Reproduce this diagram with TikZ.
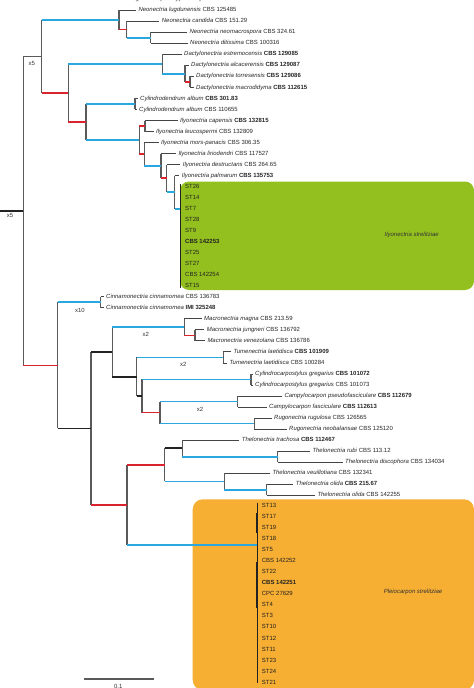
\documentclass[tikz,border=0pt]{standalone}
\usepackage{fontspec}
\setmainfont{Liberation Sans}
\definecolor{tblue}{HTML}{2AA7DF}
\definecolor{tred}{HTML}{D9232D}
\definecolor{tblack}{HTML}{222222}
\definecolor{vgray}{HTML}{5A5A5A}
\definecolor{lgray}{HTML}{444444}
\definecolor{gbox}{HTML}{93C01F}
\definecolor{obox}{HTML}{F6AE33}
\newcommand\tfs{\fontsize{6}{7}\selectfont}
\newcommand\leaf[5]{%
  \coordinate (#1) at (#3-2.5,11.02*#4-0.7);
  \node[lab] (#1t) at (#3,11.02*#4-0.7) {#5};
  \draw[hg] (#2 |- #1) -- (#1);}
\newcommand\stl[4]{%
  \node[lab,text=tblack] (#1) at (#2,11.02*#3-0.7) {#4};}
\begin{document}
\begin{tikzpicture}[x=1bp,y=-1bp,
  vl/.style={draw=vgray,line width=1.1bp},
  hb/.style={draw=tblue,line width=1.8bp},
  hr/.style={draw=tred,line width=1.8bp},
  hk/.style={draw=tblack,line width=1.8bp},
  hgr/.style={draw=vgray,line width=1.1bp},
  hg/.style={draw=lgray,line width=0.9bp},
  lab/.style={anchor=west,inner sep=0pt,font=\tfs,text=black!85,text height=4.3bp,text depth=1.2bp},
  mult/.style={inner sep=0pt,font=\tfs,text=black!80},
]
\useasboundingbox (0,0) rectangle (474,688);
% clade boxes
\fill[gbox,rounded corners=9bp] (180,181.5) rectangle (474,290);
\fill[obox,rounded corners=10bp] (192.7,499.3) rectangle (474,690);
\node[mult,font=\tfs\itshape] (ilab) at (411.7,235) {Ilyonectria strelitziae};
\node[mult,font=\tfs\itshape] (plab) at (413,591.7) {Pleiocarpon strelitziae};

% internal nodes
\coordinate (R0) at (0,210.96);
\coordinate (R) at (23.3,210.96);
\coordinate (A0) at (41.7,56.51);
\coordinate (N1) at (119,19.96);
\coordinate (N2) at (126.7,29.6);
\coordinate (N3) at (150.7,37.87);
\coordinate (D0) at (68.3,93.06);
\coordinate (D1) at (162.3,64.04);
\coordinate (D2) at (185,73.69);
\coordinate (D3) at (190,81.95);
\coordinate (CI) at (86,122.07);
\coordinate (C1) at (135,103.99);
\coordinate (I0) at (139.3,140.15);
\coordinate (I1) at (145,126.03);
\coordinate (I2) at (144.3,154.27);
\coordinate (I3) at (161,165.98);
\coordinate (I4) at (166.7,178.38);
\coordinate (I5) at (174.7,192.15);
\coordinate (IS) at (180.5,208.68);
\coordinate (B0) at (57.7,365.4);
\coordinate (Cin) at (100.7,302.35);
\coordinate (B1) at (91,428.45);
\coordinate (B2) at (112.3,351.94);
\coordinate (M) at (184.3,327.15);
\coordinate (M2) at (195,335.41);
\coordinate (B3) at (136.7,376.74);
\coordinate (T) at (223.3,357.45);
\coordinate (B4) at (142,396.02);
\coordinate (Cy) at (251,379.49);
\coordinate (B5) at (160,412.55);
\coordinate (Ca) at (237.7,401.53);
\coordinate (Ru) at (254.3,423.57);
\coordinate (B6) at (127,504.95);
\coordinate (TH0) at (164.7,464.9);
\coordinate (TH1) at (182.3,448.37);
\coordinate (TRD) at (277.7,456.63);
\coordinate (TH2) at (224.3,481.43);
\coordinate (OL) at (266.7,489.69);
\coordinate (PS) at (257.3,545);

% leaves
\node[lab] (l0t) at (121.7,-0.7) {\textit{Xenogliocladiopsis cypellocarpa} \textbf{CBS 133814}};
\leaf{l1}{N1}{138.3}{1}{\textit{Neonectria lugdunensis} CBS 125485}
\leaf{l2}{N2}{161.7}{2}{\textit{Neonectria candida} CBS 151.29}
\leaf{l3}{N3}{189.3}{3}{\textit{Neonectria neomacrospora} CBS 324.61}
\leaf{l4}{N3}{190}{4}{\textit{Neonectria ditissima} CBS 100316}
\leaf{l5}{D1}{184}{5}{\textit{Dactylonectria estremocensis} \textbf{CBS 129085}}
\leaf{l6}{D2}{191}{6}{\textit{Dactylonectria alcacerensis} \textbf{CBS 129087}}
\leaf{l7}{D3}{196}{7}{\textit{Dactylonectria torresensis} \textbf{CBS 129086}}
\leaf{l8}{D3}{196}{8}{\textit{Dactylonectria macrodidyma} \textbf{CBS 112615}}
\leaf{l9}{C1}{140}{9}{\textit{Cylindrodendrum album} \textbf{CBS 301.83}}
\leaf{l10}{C1}{139}{10}{\textit{Cylindrodendrum album} CBS 110655}
\leaf{l11}{I1}{180}{11}{\textit{Ilyonectria capensis} \textbf{CBS 132815}}
\leaf{l12}{I1}{156}{12}{\textit{Ilyonectria leucospermi} CBS 132809}
\leaf{l13}{I2}{161}{13}{\textit{Ilyonectria mors-panacis} CBS 306.35}
\leaf{l14}{I3}{178.3}{14}{\textit{Ilyonectria liriodendri} CBS 117527}
\leaf{l15}{I4}{182.7}{15}{\textit{Ilyonectria destructans} CBS 264.65}
\leaf{l16}{I5}{181.7}{16}{\textit{Ilyonectria palmarum} \textbf{CBS 135753}}
\leaf{l27}{Cin}{106}{27}{\textit{Cinnamonectria cinnamomea} CBS 136783}
\leaf{l28}{Cin}{106}{28}{\textit{Cinnamonectria cinnamomea} \textbf{IMI 325248}}
\leaf{l29}{M}{204}{29}{\textit{Macronectria magna} CBS 213.59}
\leaf{l30}{M2}{206.7}{30}{\textit{Macronectria jungneri} CBS 136792}
\leaf{l31}{M2}{207.3}{31}{\textit{Macronectria venezolana} CBS 136786}
\leaf{l32}{T}{233.5}{32}{\textit{Tumenectria laetidisca} \textbf{CBS 101909}}
\leaf{l33}{T}{229.3}{33}{\textit{Tumenectria laetidisca} CBS 100284}
\leaf{l34}{Cy}{255}{34}{\textit{Cylindrocarpostylus gregarius} \textbf{CBS 101072}}
\leaf{l35}{Cy}{255}{35}{\textit{Cylindrocarpostylus gregarius} CBS 101073}
\leaf{l36}{Ca}{284.3}{36}{\textit{Campylocarpon pseudofasciculare} \textbf{CBS 112679}}
\leaf{l37}{Ca}{269}{37}{\textit{Campylocarpon fasciculare} \textbf{CBS 112613}}
\leaf{l38}{Ru}{274}{38}{\textit{Rugonectria rugulosa} CBS 126565}
\leaf{l39}{Ru}{289}{39}{\textit{Rugonectria neobalansae} CBS 125120}
\leaf{l40}{TH1}{241.7}{40}{\textit{Thelonectria trachosa} \textbf{CBS 112467}}
\leaf{l41}{TRD}{312.3}{41}{\textit{Thelonectria rubi} CBS 113.12}
\leaf{l42}{TRD}{345}{42}{\textit{Thelonectria discophora} CBS 134034}
\leaf{l43}{TH2}{272.3}{43}{\textit{Thelonectria veuillotiana} CBS 132341}
\leaf{l44}{OL}{295.7}{44}{\textit{Thelonectria olida} \textbf{CBS 215.67}}
\leaf{l45}{OL}{317.3}{45}{\textit{Thelonectria olida} CBS 142255}

% vertical lines
\draw[vl] (R |- A0) -- (R |- B0);
\draw[vl] (A0 |- N1) -- (A0 |- D0);
\draw[vl] (N1 |- l1) -- (N1 |- N2);
\draw[vl] (N2 |- l2) -- (N2 |- N3);
\draw[vl] (N3 |- l3) -- (N3 |- l4);
\draw[vl] (D0 |- D1) -- (D0 |- CI);
\draw[vl] (D1 |- l5) -- (D1 |- D2);
\draw[vl] (D2 |- l6) -- (D2 |- D3);
\draw[vl] (D3 |- l7) -- (D3 |- l8);
\draw[vl] (CI |- C1) -- (CI |- I0);
\draw[vl] (C1 |- l9) -- (C1 |- l10);
\draw[vl] (I0 |- I1) -- (I0 |- I2);
\draw[vl] (I1 |- l11) -- (I1 |- l12);
\draw[vl] (I2 |- l13) -- (I2 |- I3);
\draw[vl] (I3 |- l14) -- (I3 |- I4);
\draw[vl] (I4 |- l15) -- (I4 |- I5);
\draw[vl] (I5 |- l16) -- (I5 |- IS);
\draw[vl] (B0 |- Cin) -- (B0 |- B1);
\draw[vl] (Cin |- l27) -- (Cin |- l28);
\draw[vl] (B1 |- B2) -- (B1 |- B6);
\draw[vl] (B2 |- M) -- (B2 |- B3);
\draw[vl] (M |- l29) -- (M |- M2);
\draw[vl] (M2 |- l30) -- (M2 |- l31);
\draw[vl] (B3 |- T) -- (B3 |- B4);
\draw[vl] (T |- l32) -- (T |- l33);
\draw[vl] (B4 |- Cy) -- (B4 |- B5);
\draw[vl] (Cy |- l34) -- (Cy |- l35);
\draw[vl] (B5 |- Ca) -- (B5 |- Ru);
\draw[vl] (Ca |- l36) -- (Ca |- l37);
\draw[vl] (Ru |- l38) -- (Ru |- l39);
\draw[vl] (B6 |- TH0) -- (B6 |- PS);
\draw[vl] (TH0 |- TH1) -- (TH0 |- TH2);
\draw[vl] (TH1 |- l40) -- (TH1 |- TRD);
\draw[vl] (TRD |- l41) -- (TRD |- l42);
\draw[vl] (TH2 |- l43) -- (TH2 |- OL);
\draw[vl] (OL |- l44) -- (OL |- l45);

% horizontal branches
\draw[hk] (R0) -- (R);
\draw[hgr] (R |- A0) -- (A0);
\draw[hb] (A0 |- N1) -- (N1);
\draw[hr] (N1 |- N2) -- (N2);
\draw[hb] (N2 |- N3) -- (N3);
\draw[hr] (A0 |- D0) -- (D0);
\draw[hb] (D0 |- D1) -- (D1);
\draw[hb] (D1 |- D2) -- (D2);
\draw[hr] (D2 |- D3) -- (D3);
\draw[hr] (D0 |- CI) -- (CI);
\draw[hb] (CI |- C1) -- (C1);
\draw[hb] (CI |- I0) -- (I0);
\draw[hr] (I0 |- I1) -- (I1);
\draw[hr] (I0 |- I2) -- (I2);
\draw[hb] (I2 |- I3) -- (I3);
\draw[hr] (I3 |- I4) -- (I4);
\draw[hb] (I4 |- I5) -- (I5);
\draw[hb] (I5 |- IS) -- (IS);
\draw[hr] (R |- B0) -- (B0);
\draw[hb] (B0 |- Cin) -- (Cin);
\draw[hk] (B0 |- B1) -- (B1);
\draw[hk] (B1 |- B2) -- (B2);
\draw[hb] (B2 |- M) -- (M);
\draw[hr] (M |- M2) -- (M2);
\draw[hk] (B2 |- B3) -- (B3);
\draw[hb] (B3 |- T) -- (T);
\draw[hk] (B3 |- B4) -- (B4);
\draw[hb] (B4 |- Cy) -- (Cy);
\draw[hr] (B4 |- B5) -- (B5);
\draw[hb] (B5 |- Ca) -- (Ca);
\draw[hb] (B5 |- Ru) -- (Ru);
\draw[hr] (B1 |- B6) -- (B6);
\draw[hr] (B6 |- TH0) -- (TH0);
\draw[hk] (TH0 |- TH1) -- (TH1);
\draw[hb] (TH1 |- TRD) -- (TRD);
\draw[hb] (TH0 |- TH2) -- (TH2);
\draw[hb] (TH2 |- OL) -- (OL);
\draw[hb] (B6 |- PS) -- (PS);

% collapsed clade bars
\coordinate (ib1) at (180.5,184);
\coordinate (ib2) at (180.5,287.5);
\draw[draw=tblack,line width=1.3bp] (ib1) -- (ib2);
\coordinate (pb1) at (257.3,502.7);
\coordinate (pb2) at (257.3,682.7);
\draw[draw=tblack,line width=1.1bp] (pb1) -- (pb2);
\coordinate (pc1) at (256.6,513);
\coordinate (pc2) at (256.6,533);
\draw[draw=tblack,line width=1.8bp] (pc1) -- (pc2);
\coordinate (pd1) at (256.6,561.7);
\coordinate (pd2) at (256.6,608.3);
\draw[draw=tblack,line width=1.8bp] (pd1) -- (pd2);

% Ilyonectria strelitziae strains
\stl{s17}{185}{17}{ST26}
\stl{s18}{185}{18}{ST14}
\stl{s19}{185}{19}{ST7}
\stl{s20}{185}{20}{ST28}
\stl{s21}{185}{21}{ST9}
\stl{s22}{185}{22}{\textbf{CBS 142253}}
\stl{s23}{185}{23}{ST25}
\stl{s24}{185}{24}{ST27}
\stl{s25}{185}{25}{CBS 142254}
\stl{s26}{185}{26}{ST15}
% Pleiocarpon strelitziae strains
\stl{s46}{261.7}{46}{ST13}
\stl{s47}{261.7}{47}{ST17}
\stl{s48}{261.7}{48}{ST19}
\stl{s49}{261.7}{49}{ST18}
\stl{s50}{261.7}{50}{ST5}
\stl{s51}{261.7}{51}{CBS 142252}
\stl{s52}{261.7}{52}{ST22}
\stl{s53}{261.7}{53}{\textbf{CBS 142251}}
\stl{s54}{261.7}{54}{CPC 27629}
\stl{s55}{261.7}{55}{ST4}
\stl{s56}{261.7}{56}{ST3}
\stl{s57}{261.7}{57}{ST10}
\stl{s58}{261.7}{58}{ST12}
\stl{s59}{261.7}{59}{ST11}
\stl{s60}{261.7}{60}{ST23}
\stl{s61}{261.7}{61}{ST24}
\stl{s62}{261.7}{62}{ST21}

% branch multipliers
\node[mult] (m1) at (10,215.5) {x5};
\node[mult] (m2) at (31.7,63.3) {x5};
\node[mult] (m3) at (80,310.7) {x10};
\node[mult] (m4) at (145.7,334) {x2};
\node[mult] (m5) at (183.3,364.3) {x2};
\node[mult] (m6) at (200,409) {x2};

% scale bar
\coordinate (sc1) at (84.3,679);
\coordinate (sc2) at (154,679);
\draw[draw=vgray,line width=1.2bp] (sc1) -- (sc2);
\node[mult] (sclab) at (118.3,686.5) {0.1};
\end{tikzpicture}
\end{document}
